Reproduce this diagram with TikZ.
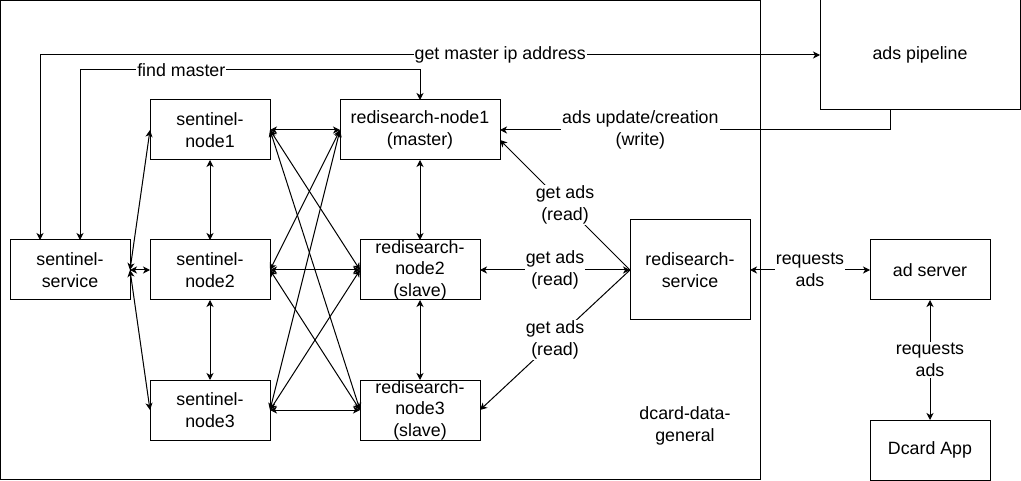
\documentclass[tikz,border=0pt]{standalone}
\usepackage{fontspec}
\setmainfont{Liberation Sans}
\usetikzlibrary{positioning, arrows.meta}

\begin{document}
\begin{tikzpicture}[x=1pt, y=-1pt, line width=1pt,
  font=\fontsize{17.8}{21.5}\selectfont,
  >={Stealth[length=7pt, width=7pt, inset=2pt]},
  box/.style={draw, minimum width=120pt, minimum height=60pt,
              inner sep=0pt, outer sep=0pt, align=center},
  lbl/.style={fill=white, inner sep=1pt, align=center}]
  \useasboundingbox (0,0) rectangle (1021,481);
  % dcard-data-general cluster
  \node[draw, anchor=north west, minimum width=759.5pt, minimum height=478.8pt,
        inner sep=0pt, outer sep=0pt] (general) at (0.6,0.6) {};
  \node[align=center] (generallbl) at (685,426) {dcard-data-\\general};

  \node[box] (ss) at (70,270) {sentinel-\\service};
  \node[box, right=20pt of ss] (sn2) {sentinel-\\node2};
  \node[box, above=80pt of sn2] (sn1) {sentinel-\\node1};
  \node[box, below=80pt of sn2] (sn3) {sentinel-\\node3};
  \node[box, right=90pt of sn2] (rn2) {redisearch-\\node2\\(slave)};
  \node[box, minimum width=160pt, above=80pt of rn2] (rn1) {redisearch-node1\\(master)};
  \node[box, below=80pt of rn2] (rn3) {redisearch-\\node3\\(slave)};
  \node[box, minimum height=100pt, right=150pt of rn2] (rs) {redisearch-\\service};
  \node[box, right=120pt of rs] (ads) {ad server};
  \node[box, below=120pt of ads] (app) {Dcard App};
  \node[box, minimum width=200pt, minimum height=110pt] (pipe) at (920,55) {ads pipeline};

  % outside links
  \draw[<->] ([xshift=-30pt]ss.north) |- node[lbl, pos=0.795] {get master ip address} (pipe.west);
  \draw[<->] ([xshift=10pt]ss.north) |- node[lbl, pos=0.649] {find master}
    ([yshift=30pt]rn1.north) -- (rn1.north);
  \draw[->] ([xshift=-30pt]pipe.south) |- node[lbl, pos=0.82] {ads update/creation\\(write)} (rn1.east);
  \draw[->] (rs.west) -- node[lbl] {get ads\\(read)} ([yshift=-10pt]rn1.east);
  \draw[<->] (rs.west) -- node[lbl] {get ads\\(read)} (rn2.east);
  \draw[->] (rs.west) -- node[lbl] {get ads\\(read)} (rn3.east);
  \draw[<->] (rs.east) -- node[lbl] {requests\\ads} (ads.west);
  \draw[<->] (ads.south) -- node[lbl] {requests\\ads} (app.north);

  % sentinel mesh
  \foreach \n in {sn1, sn2, sn3}
     \draw[<->] (ss.east) -- (\n.west);
  \foreach \a/\b in {sn1/sn2, sn2/sn3, rn1/rn2, rn2/rn3}
     \draw[<->] (\a.south) -- (\b.north);
  \foreach \s in {sn1, sn2, sn3}
     \foreach \r in {rn1, rn2, rn3}
        \draw[<->] (\s.east) -- (\r.west);
\end{tikzpicture}
\end{document}
